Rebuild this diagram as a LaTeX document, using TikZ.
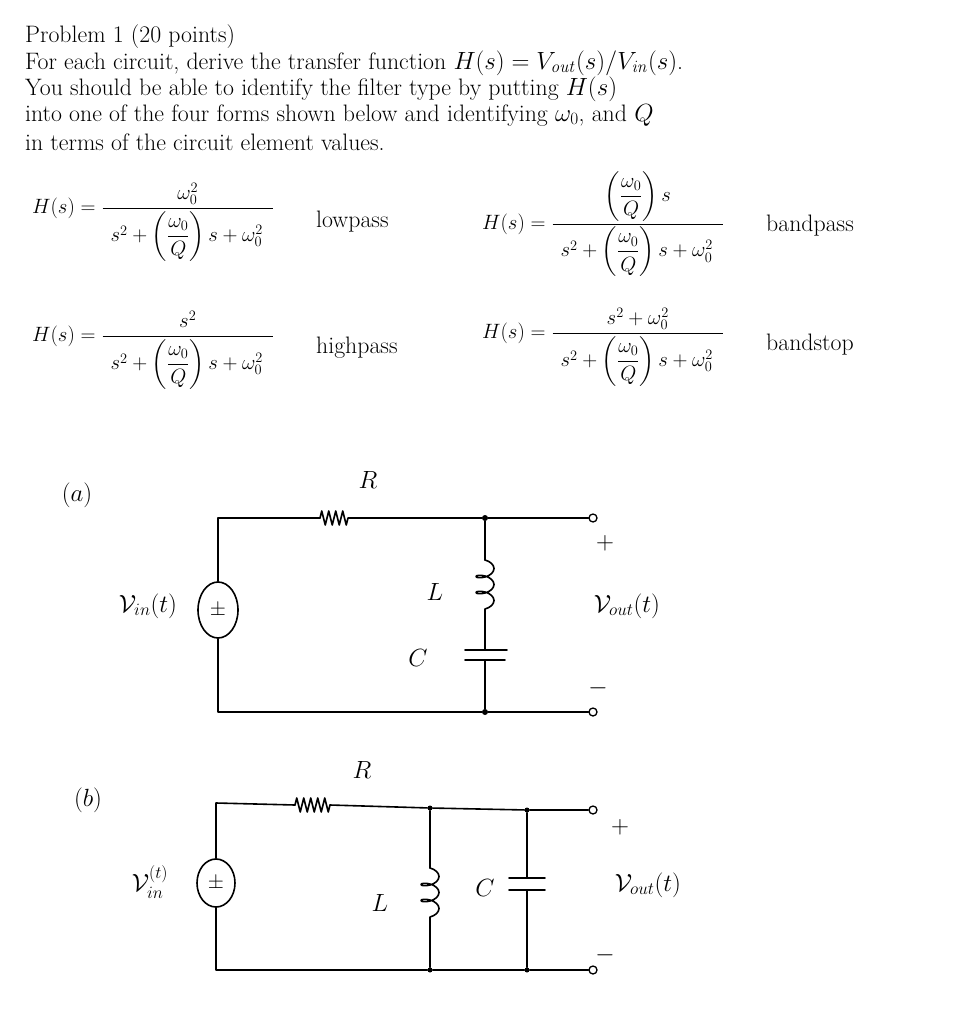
\documentclass[tikz,border=0pt]{standalone}
\usepackage{amsmath}
\usetikzlibrary{decorations.pathmorphing,shapes.geometric}
\begin{document}
\begin{tikzpicture}[x=1pt,y=-1pt,
  txt/.style={anchor=west,inner sep=0pt,font=\fontsize{23.8}{26}\selectfont},
  eq/.style={anchor=west,inner sep=0pt,font=\fontsize{22.5}{26}\selectfont},
  wire/.style={line width=1.6pt,line join=round,line cap=round},
  dot/.style={circle,fill=black,inner sep=0pt,minimum size=6pt},
  term/.style={circle,draw,line width=1.3pt,inner sep=0pt,minimum size=8pt,fill=white},
  hand/.style={inner sep=0pt,font=\fontsize{24}{28}\selectfont}]
\useasboundingbox (0,0) rectangle (964,1024);
\fill[white] (0,0) rectangle (964,1024);
% text
\node[txt] (t1) at (25,37) {Problem 1 (20 points)};
\node[txt] (t2) at (25,63) {For each circuit, derive the transfer function $H(s)=V_{\mathit{out}}(s)/V_{\mathit{in}}(s)$.};
\node[txt] (t3) at (25,89) {You should be able to identify the filter type by putting $H(s)$};
\node[txt] (t4) at (25,115) {into one of the four forms shown below and identifying $\omega_0$, and $Q$};
\node[txt] (t5) at (25,142) {in terms of the circuit element values.};
% equations
\node[eq] (e1) at (32,222) {$H(s)=\dfrac{\omega_0^2}{\hspace{8pt}s^2+\left(\dfrac{\omega_0}{Q}\right)s+\omega_0^2\hspace{10pt}}$};
\node[eq] (e2) at (482,224) {$H(s)=\dfrac{\left(\dfrac{\omega_0}{Q}\right)s}{\hspace{8pt}s^2+\left(\dfrac{\omega_0}{Q}\right)s+\omega_0^2\hspace{10pt}}$};
\node[eq] (e3) at (32,350) {$H(s)=\dfrac{s^2}{\hspace{8pt}s^2+\left(\dfrac{\omega_0}{Q}\right)s+\omega_0^2\hspace{10pt}}$};
\node[eq] (e4) at (482,347) {$H(s)=\dfrac{s^2+\omega_0^2}{\hspace{8pt}s^2+\left(\dfrac{\omega_0}{Q}\right)s+\omega_0^2\hspace{10pt}}$};
\node[txt] (l1) at (316,222) {lowpass};
\node[txt] (l2) at (766,226) {bandpass};
\node[txt] (l3) at (316,348) {highpass};
\node[txt] (l4) at (766,345) {bandstop};
% ---- circuit (a)
\node[hand] (la) at (77,495) {$(a)$};
\node[draw,ellipse,line width=1.6pt,minimum width=40pt,minimum height=56pt,inner sep=0pt] (srcA) at (218,610) {};
\node[inner sep=0pt,font=\fontsize{22}{22}\selectfont] (pmA) at (218,610) {$\pm$};
\coordinate (a1) at (218,518);
\coordinate (a2) at (218,712);
\coordinate (r1a) at (320,518);
\coordinate (r2a) at (350,518);
\node[dot] (ja1) at (485,518) {};
\node[dot] (ja2) at (485,712) {};
\node[term] (oa1) at (593,518) {};
\node[term] (oa2) at (593,712) {};
\coordinate (la1) at (485,560);
\coordinate (la2) at (485,612);
\coordinate (ca1) at (485,650);
\coordinate (ca2) at (485,660);
\draw[wire] (srcA.north) -- (a1) -- (r1a);
\draw[wire,decorate,decoration={zigzag,segment length=7pt,amplitude=7pt}] (r1a) -- (r2a);
\draw[wire] (r2a) -- (ja1) -- (oa1);
\draw[wire] (srcA.south) -- (a2) -- (ja2) -- (oa2);
\draw[wire] (ja1) -- (la1);
\draw[wire,decorate,decoration={coil,aspect=0.5,segment length=16pt,amplitude=9pt}] (la1) -- (la2);
\draw[wire] (la2) -- (ca1);
\draw[wire] ([xshift=-20pt]ca1) -- ([xshift=22pt]ca1);
\draw[wire] ([xshift=-20pt]ca2) -- ([xshift=20pt]ca2);
\draw[wire] (ca2) -- (ja2);
\node[hand] (Ra) at (368,480) {$R$};
\node[hand] (La) at (435,592) {$L$};
\node[hand] (Ca) at (418,658) {$C$};
\node[hand] (Va) at (148,606) {$\mathcal{V}_{in}(t)$};
\node[hand] (pa) at (605,543) {$+$};
\node[hand] (va) at (627,606) {$\mathcal{V}_{out}(t)$};
\node[hand] (ma) at (598,688) {$-$};
% ---- circuit (b)
\node[hand] (lb) at (88,800) {$(b)$};
\node[draw,ellipse,line width=1.6pt,minimum width=38pt,minimum height=48pt,inner sep=0pt] (srcB) at (216,883) {};
\node[inner sep=0pt,font=\fontsize{22}{22}\selectfont] (pmB) at (216,883) {$\pm$};
\coordinate (b1) at (216,803);
\coordinate (b2) at (216,970);
\coordinate (r1b) at (295,805);
\coordinate (r2b) at (330,805);
\node[dot,minimum size=5pt] (jb1) at (430,808) {};
\node[dot,minimum size=5pt] (jb2) at (527,810) {};
\node[dot,minimum size=5pt] (jb3) at (430,970) {};
\node[dot,minimum size=5pt] (jb4) at (527,970) {};
\node[term] (ob1) at (593,810) {};
\node[term] (ob2) at (593,970) {};
\coordinate (lb1) at (430,868);
\coordinate (lb2) at (430,920);
\coordinate (cb1) at (527,878);
\coordinate (cb2) at (527,890);
\draw[wire] (srcB.north) -- (b1) -- (r1b);
\draw[wire,decorate,decoration={zigzag,segment length=7pt,amplitude=7pt}] (r1b) -- (r2b);
\draw[wire] (r2b) -- (jb1) -- (jb2) -- (ob1);
\draw[wire] (srcB.south) -- (b2) -- (jb3) -- (jb4) -- (ob2);
\draw[wire] (jb1) -- (lb1);
\draw[wire,decorate,decoration={coil,aspect=0.5,segment length=16pt,amplitude=9pt}] (lb1) -- (lb2);
\draw[wire] (lb2) -- (jb3);
\draw[wire] (jb2) -- (cb1);
\draw[wire] ([xshift=-18pt]cb1) -- ([xshift=18pt]cb1);
\draw[wire] ([xshift=-18pt]cb2) -- ([xshift=18pt]cb2);
\draw[wire] (cb2) -- (jb4);
\node[hand] (Rb) at (362,770) {$R$};
\node[hand] (Lb) at (380,903) {$L$};
\node[hand] (Cb) at (485,888) {$C$};
\node[hand] (Vb) at (150,882) {$\mathcal{V}_{in}^{(t)}$};
\node[hand] (pb) at (620,827) {$+$};
\node[hand] (vb) at (648,885) {$\mathcal{V}_{out}(t)$};
\node[hand] (mb) at (605,955) {$-$};
\end{tikzpicture}
\end{document}
